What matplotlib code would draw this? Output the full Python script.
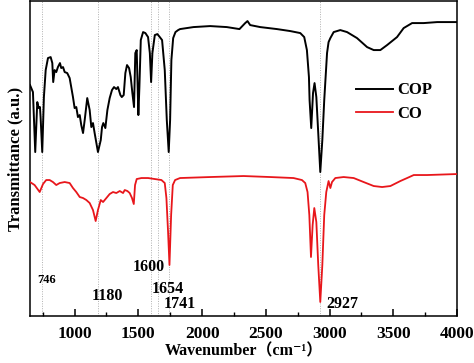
import numpy as np
import matplotlib
matplotlib.use("Agg")
import matplotlib.pyplot as plt
from matplotlib.ticker import MultipleLocator

plt.rcParams['font.family'] = ['Liberation Serif', 'DejaVu Serif', 'Noto Sans CJK SC']
plt.rcParams['font.weight'] = 'bold'

# COP spectrum (wavenumber, transmittance a.u.)
cop_wn = [650, 673, 691, 707, 718, 728, 733, 746, 759, 773, 791, 812, 825, 832, 843, 856,
          869, 885, 895, 909, 922, 942, 961, 987, 1000, 1013, 1026, 1040, 1052, 1066, 1079,
          1099, 1118, 1131, 1144, 1157, 1183, 1205, 1215, 1225, 1241, 1257, 1275, 1293, 1309,
          1327, 1340, 1359, 1370, 1385, 1398, 1411, 1427, 1440, 1453, 1466, 1476, 1487, 1500,
          1508, 1519, 1537, 1555, 1576, 1590, 1600, 1610, 1629, 1649, 1668, 1686, 1707, 1723,
          1738, 1749, 1759, 1773, 1791, 1812, 1827, 1932, 2063, 2194, 2293, 2338, 2356, 2377,
          2456, 2587, 2692, 2770, 2801, 2822, 2838, 2843, 2856, 2870, 2882, 2896, 2911, 2927,
          2943, 2958, 2980, 2992, 3006, 3032, 3084, 3137, 3215, 3294, 3346, 3398, 3451, 3529,
          3581, 3647, 3738, 3844, 3948, 4000]
cop_t = [231, 224, 164, 214, 208, 209, 199, 164, 219, 246, 258, 259, 253, 234, 246, 244,
         249, 253, 248, 249, 244, 243, 238, 219, 208, 209, 199, 201, 191, 183, 196,
         218, 206, 189, 193, 183, 164, 176, 189, 193, 188, 206, 218, 226, 229,
         227, 229, 221, 219, 221, 243, 251, 248, 239, 223, 209, 263, 266, 201,
         229, 276, 284, 283, 279, 263, 234, 263, 281, 282, 279, 276, 246, 196,
         164, 196, 256, 278, 284, 286, 287, 289, 290, 289, 287, 293, 295, 291,
         289, 287, 285, 283, 279, 266, 239, 216, 188, 223, 233, 219, 183, 144,
         176, 216, 263, 274, 278, 284, 286, 284, 278, 269, 266, 266, 271, 279,
         288, 293, 293, 294, 294, 294]

# CO spectrum
co_wn = [650, 686, 726, 752, 777, 804, 830, 856, 883, 922, 961, 987, 1013, 1040, 1066, 1092,
         1118, 1144, 1165, 1183, 1205, 1223, 1249, 1275, 1301, 1327, 1354, 1380, 1393, 1414,
         1432, 1450, 1464, 1474, 1487, 1524, 1576, 1629, 1681, 1707, 1720, 1733, 1744, 1757,
         1770, 1788, 1827, 2063, 2325, 2534, 2717, 2783, 2809, 2827, 2841, 2854, 2867, 2880,
         2896, 2911, 2927, 2943, 2958, 2974, 2992, 3006, 3019, 3045, 3110, 3189, 3267, 3346,
         3412, 3477, 3555, 3608, 3660, 3765, 4000]
co_t = [134, 131, 124, 132, 136, 136, 134, 131, 133, 134, 133, 128, 124, 119, 118, 116,
        113, 106, 95, 106, 116, 114, 118, 122, 124, 123, 125, 123, 126, 125,
        123, 118, 112, 131, 137, 138, 138, 137, 136, 133, 118, 84, 51, 101,
        131, 136, 138, 139, 140, 139, 138, 136, 133, 124, 101, 59, 91, 108,
        94, 51, 14, 51, 101, 124, 135, 128, 134, 138, 139, 138, 134, 130,
        129, 130, 135, 138, 141, 141, 142]

# marked peaks and label positions
peaks = [746, 1180, 1600, 1654, 1741, 2927]
peak_labels = ['746', '1180', '1600', '1654', '1741', '2927']
label_x = [781, 1260, 1578, 1731, 1822, 3097]
label_y = [36, 20, 49, 27, 12, 12]
label_size = [9, 11.5, 11.5, 11.5, 11.5, 11.5]

fig = plt.figure(figsize=(4.74, 3.63), dpi=100)
ax = fig.add_axes([0.0633, 0.1295, 0.901, 0.8675])

for p in peaks:
    ax.axvline(p, color='#b0b0b0', lw=0.7, ls=(0, (1, 1.5)), zorder=1)

ax.plot(cop_wn, cop_t, color='black', lw=1.4, label='COP', zorder=3)
ax.plot(co_wn, co_t, color='#e8161b', lw=1.3, label='CO', zorder=3)

for lab, x, y, s in zip(peak_labels, label_x, label_y, label_size):
    ax.text(x, y, lab, ha='center', va='center', fontsize=s, fontweight='bold')

ax.set_xlim(650, 4000)
ax.set_ylim(0, 315)
ax.xaxis.set_major_locator(MultipleLocator(500))
ax.xaxis.set_minor_locator(MultipleLocator(250))
ax.tick_params(axis='x', which='major', direction='in', length=5, width=1.1,
               labelsize=12.5, pad=7)
ax.tick_params(axis='x', which='minor', direction='in', length=3, width=1.0)
ax.set_yticks([])
for lbl in ax.get_xticklabels():
    lbl.set_fontweight('bold')
for sp in ax.spines.values():
    sp.set_linewidth(1.1)

ax.set_xlabel('Wavenumber（cm⁻¹）', fontsize=11.5, fontweight='bold', labelpad=1)
ax.set_ylabel('Transmittance (a.u.)', fontsize=12, fontweight='bold', labelpad=5)

ax.legend(loc='center left', bbox_to_anchor=(0.763, 0.679), frameon=False,
          borderpad=0, borderaxespad=0, handlelength=2.2, handletextpad=0.3,
          labelspacing=0.45, prop={'size': 12, 'weight': 'bold'})

fig.savefig('out.png', dpi=100)
